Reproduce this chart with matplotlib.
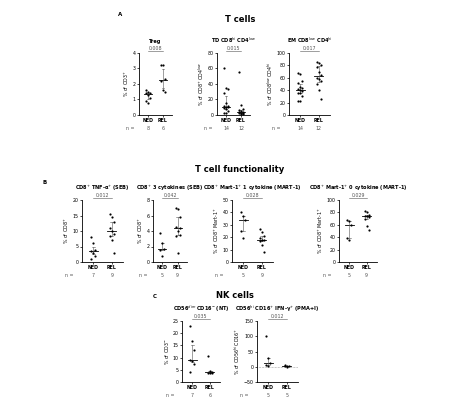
import matplotlib.pyplot as plt
import numpy as np

W, H = 474, 403

# group values
treg_ned = [1.6, 1.5, 1.4, 1.4, 1.3, 1.1, 0.9, 0.8]
treg_rel = [3.2, 3.2, 2.3, 2.2, 1.6, 1.5]
td_ned = [61, 35, 34, 28, 15, 12, 11, 10, 10, 9, 8, 5, 3, 2]
td_rel = [55, 13, 8, 6, 5, 4, 4, 3, 2, 2, 1, 1]
em_ned = [68, 66, 55, 52, 45, 43, 42, 40, 38, 36, 35, 30, 22, 22]
em_rel = [85, 84, 80, 78, 70, 65, 60, 58, 55, 50, 40, 25]
tnf_ned = [8, 6, 4, 3.5, 3, 2, 1]
tnf_rel = [15.5, 14.5, 13, 11, 10, 9, 8.5, 7, 3]
cyt3_ned = [3.7, 2.5, 1.7, 1.5, 0.8]
cyt3_rel = [7, 6.8, 5.8, 4.5, 4, 3.5, 3.4, 1.1, 4.4]
m1_ned = [40, 37, 34, 25, 19]
m1_rel = [27, 24, 21, 19, 18, 18, 17, 14, 8]
m0_ned = [68, 66, 60, 38, 35]
m0_rel = [83, 80, 76, 75, 74, 73, 70, 58, 52]
nkb_ned = [23, 17, 13, 9, 8.5, 7.5, 4]
nkb_rel = [10.5, 4.5, 4, 3.8, 3.5, 3.5]
nki_ned = [100, 30, 12, 5, 3]
nki_rel = [5, 3, 2, 1, 0]

panels = [
    # box in pixels (x0, x1, top, bottom), title, ylabel, ylim, yticks, ned, rel, p, n ned, n rel
    ((139, 172, 53, 115), 'Treg', '% of CD3$^{+}$', (0, 4), [0, 1, 2, 3, 4], treg_ned, treg_rel, '0.008', '8', '6'),
    ((217, 250, 53, 115), 'TD CD8$^{hi}$ CD4$^{low}$', '% of CD8$^{+}$ CD4$^{low}$', (0, 80), [0, 20, 40, 60, 80], td_ned, td_rel, '0.015', '14', '12'),
    ((289, 330, 53, 115), 'EM CD8$^{low}$ CD4$^{hi}$', '% of CD8$^{low}$ CD4$^{hi}$', (0, 100), [0, 20, 40, 60, 80, 100], em_ned, em_rel, '0.017', '14', '12'),
    ((82, 123, 200, 262), 'CD8$^{+}$ TNF-α$^{+}$ (SEB)', '% of CD8$^{+}$', (0, 20), [0, 5, 10, 15, 20], tnf_ned, tnf_rel, '0.012', '7', '9'),
    ((153, 187, 200, 262), 'CD8$^{+}$ 3 cytokines (SEB)', '% of CD8$^{+}$', (0, 8), [0, 2, 4, 6, 8], cyt3_ned, cyt3_rel, '0.042', '5', '9'),
    ((232, 273, 200, 262), 'CD8$^{+}$ Mart-1$^{+}$ 1 cytokine (MART-1)', '% of CD8$^{+}$ Mart-1$^{+}$', (0, 50), [0, 10, 20, 30, 40, 50], m1_ned, m1_rel, '0.028', '5', '9'),
    ((339, 377, 200, 262), 'CD8$^{+}$ Mart-1$^{+}$ 0 cytokine (MART-1)', '% of CD8$^{+}$ Mart-1$^{+}$', (0, 100), [0, 20, 40, 60, 80, 100], m0_ned, m0_rel, '0.029', '5', '9'),
    ((182, 220, 321, 382), 'CD56$^{dim}$ CD16$^{-}$ (NT)', '% of CD3$^{-}$', (0, 25), [0, 5, 10, 15, 20, 25], nkb_ned, nkb_rel, '0.035', '7', '6'),
    ((257, 298, 321, 382), 'CD56$^{hi}$ CD16$^{+}$ IFN-γ$^{+}$ (PMA+I)', '% of CD56$^{hi}$ CD16$^{+}$', (-50, 150), [-50, 0, 50, 100, 150], nki_ned, nki_rel, '0.012', '5', '5'),
]

fig = plt.figure(figsize=(W / 100, H / 100), dpi=100)
fs = 3.4
grey = '#555555'

for (x0, x1, y0, y1), title, ylab, ylim, yt, ned, rel, p, nn, nr in panels:
    ax = fig.add_axes([x0 / W, 1 - y1 / H, (x1 - x0) / W, (y1 - y0) / H])
    for i, d in enumerate([ned, rel]):
        d = np.array(d, dtype=float)
        xs = i + np.array([(-0.12, 0, 0.12)[k % 3] for k in range(len(d))])
        ax.scatter(xs, d, s=2.5, color='black', zorder=3, linewidths=0)
        q1, med, q3 = np.percentile(d, [25, 50, 75])
        ax.plot([i - 0.25, i + 0.25], [med, med], color='black', lw=0.6)
        ax.plot([i, i], [q1, q3], color=grey, lw=0.4)
        ax.plot([i - 0.08, i + 0.08], [q1, q1], color=grey, lw=0.4)
        ax.plot([i - 0.08, i + 0.08], [q3, q3], color=grey, lw=0.4)
    ax.set_xlim(-0.6, 1.6)
    ax.set_ylim(*ylim)
    ax.set_yticks(yt)
    ax.set_xticks([0, 1])
    ax.set_xticklabels(['NED', 'REL'], fontsize=fs, fontweight='bold')
    ax.tick_params(labelsize=fs, length=1.5, width=0.5, pad=1)
    for s in ['top', 'right']:
        ax.spines[s].set_visible(False)
    for s in ['left', 'bottom']:
        ax.spines[s].set_linewidth(0.6)
    if ylim[0] < 0:
        ax.axhline(0, color=grey, lw=0.4, ls=':')
    ax.set_ylabel(ylab, fontsize=fs, labelpad=1)
    ax.set_title(title, fontsize=fs + 0.2, fontweight='bold', pad=7)
    ytop = ylim[1] + (ylim[1] - ylim[0]) * 0.04
    ax.plot([0, 1], [ytop, ytop], color=grey, lw=0.4, clip_on=False)
    ax.text(0.5, ytop, p, ha='center', va='bottom', fontsize=fs, color=grey)
    tr = ax.get_xaxis_transform()
    for xv, s, ha in [(-1.5, 'n =', 'left'), (0, nn, 'center'), (1, nr, 'center')]:
        ax.annotate(s, (xv, 0), xycoords=tr, xytext=(0, -9.5), textcoords='offset points',
                    fontsize=fs, ha=ha, va='center', color=grey)

def ftext(x, y, s, size):
    fig.text(x / W, 1 - y / H, s, fontsize=size, fontweight='bold', ha='center', va='center')

ftext(120, 15, 'A', 4)
ftext(240, 20, 'T cells', 6)
ftext(45, 182, 'B', 4)
ftext(240, 170, 'T cell functionality', 6)
ftext(155, 296, 'C', 4)
ftext(235, 296, 'NK cells', 6)

fig.savefig('out.png', dpi=100, facecolor='white')
